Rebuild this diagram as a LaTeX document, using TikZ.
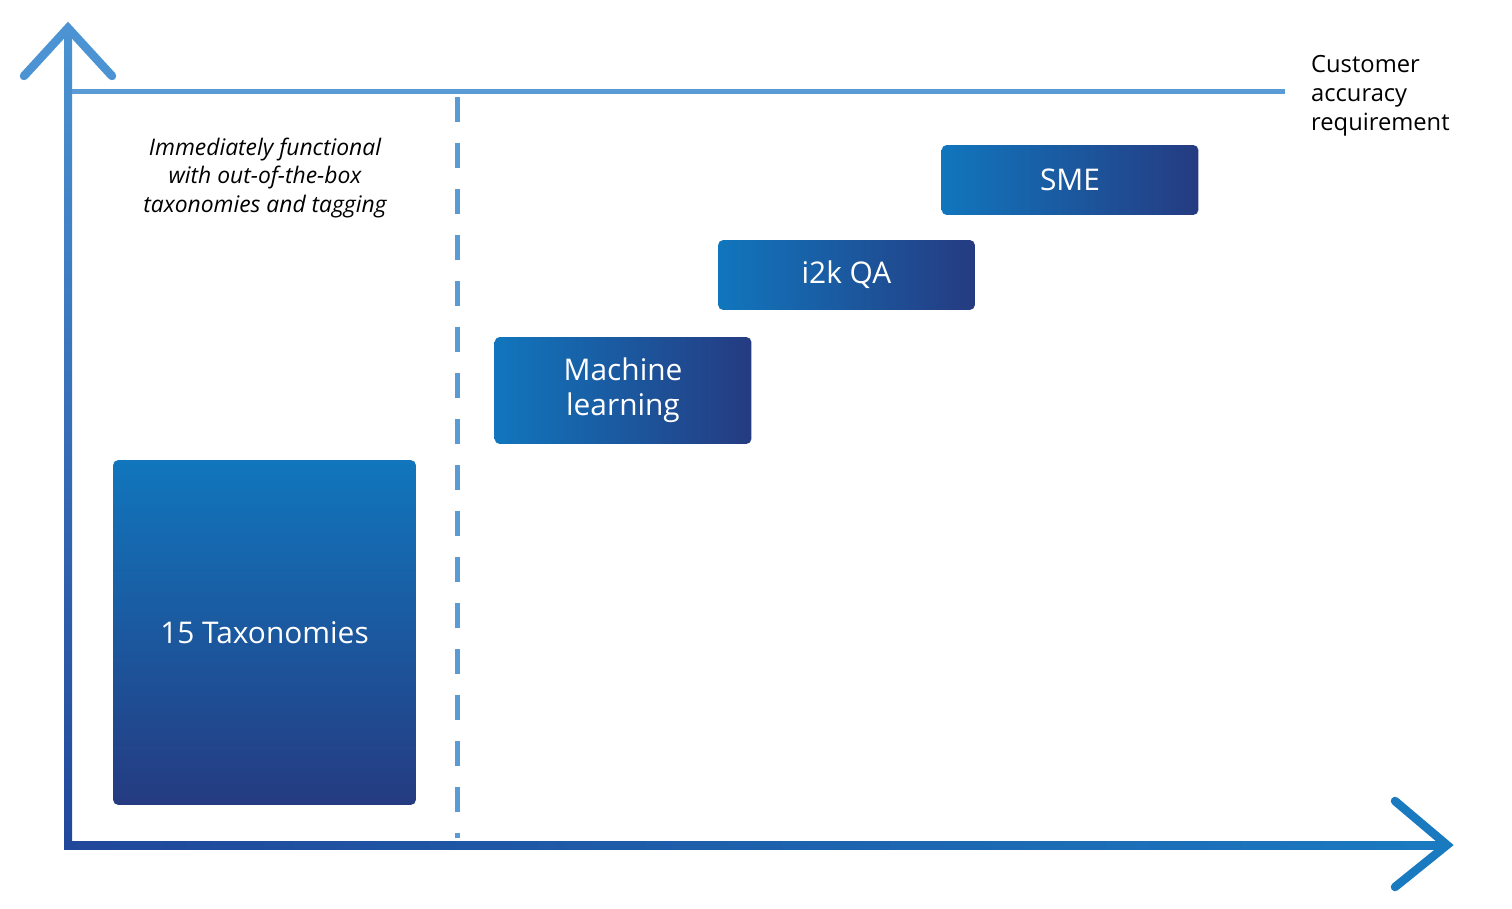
\documentclass[tikz,border=0pt]{standalone}
\usepackage{fontspec}
\setmainfont{Open Sans}
\usetikzlibrary{positioning}
\definecolor{boxlight}{HTML}{1176BD}
\definecolor{boxdark}{HTML}{253B81}
\definecolor{axlight}{HTML}{4B93D2}
\definecolor{axright}{HTML}{1A7AC0}
\definecolor{axdark}{HTML}{21479A}
\definecolor{reqline}{HTML}{5B9BD5}
\tikzset{
  stepbox/.style={rectangle, rounded corners=3pt, left color=boxlight, right color=boxdark,
    text=white, align=center, font=\fontsize{17}{20}\selectfont, inner sep=0,
    minimum width=5.14cm, minimum height=1.4cm},
  chevron/.style={line width=0.17cm, line cap=round, line join=miter}
}
\begin{document}
\begin{tikzpicture}[x=0.02cm, y=-0.02cm]
  \useasboundingbox (0,0) rectangle (1512,909);

  % axes
  \coordinate (origin) at (68,845);
  \coordinate (ytop) at (68,28);
  \coordinate (xend) at (1447,845);
  \shade[bottom color=axdark, top color=axlight] (64,849) rectangle (72,30);
  \shade[left color=axdark, right color=axright] (64,841) rectangle (1444,849);
  \draw[chevron, axlight] (24,76) -- (ytop) -- (112,76);
  \draw[chevron, axright] (1395,801) -- (xend) -- (1395,887);

  % requirement line and split
  \coordinate (reqA) at (72,92);
  \coordinate (reqB) at (1285,92);
  \draw[reqline, line width=0.1cm] (reqA) -- (reqB);
  \coordinate (dashA) at (457,97);
  \coordinate (dashB) at (457,838);
  \draw[reqline, line width=0.1cm, dash pattern=on 0.5cm off 0.42cm] (dashA) -- (dashB);

  \node[anchor=west, align=left, font=\fontsize{13.5}{16.5}\selectfont] (req) at (1305,96)
    {Customer\\accuracy\\requirement};
  \node[align=center, font=\itshape\fontsize{13}{16.5}\selectfont] (note) at (265,178)
    {Immediately functional\\with out-of-the-box\\taxonomies and tagging};

  % boxes
  \node[stepbox] (sme) at (1070,180) {SME};
  \node[stepbox] (qa) at (846.5,275) {i2k QA};
  \node[stepbox, minimum height=2.14cm] (ml) at (623,390.5) {Machine\\learning};
  \node[stepbox, top color=boxlight, bottom color=boxdark, minimum width=6.06cm,
    minimum height=6.9cm] (tax) at (264.5,632.5) {15 Taxonomies};
\end{tikzpicture}
\end{document}
